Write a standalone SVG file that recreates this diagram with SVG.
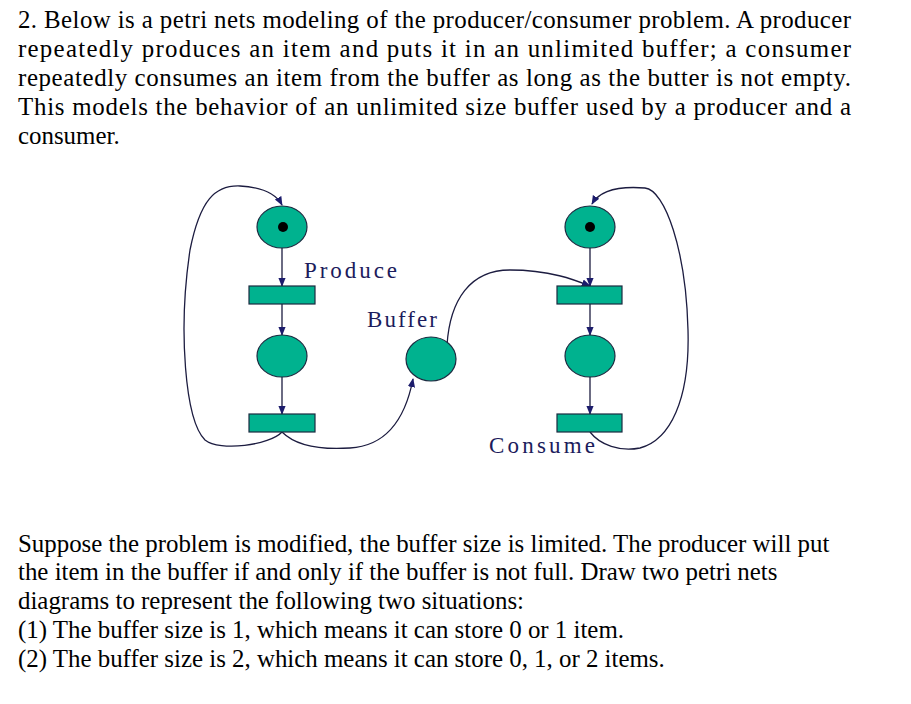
<svg xmlns="http://www.w3.org/2000/svg" width="911" height="704" viewBox="0 0 911 704">
<style>
.t{font-family:"Liberation Serif",serif;font-size:24.9px;fill:#000}
.l{font-family:"Liberation Serif",serif;font-size:23px;fill:#1c1c5c}
.p{fill:#00b28f;stroke:#1c2a40;stroke-width:1.2}
.c{fill:none;stroke:#1c1c40;stroke-width:1.3}
</style>
<defs><marker id="a" viewBox="0 0 10 10" refX="9" refY="5" markerWidth="7" markerHeight="7" orient="auto"><path d="M0,1 L10,5 L0,9 z" fill="#1c1c6c"/></marker></defs>
<rect width="911" height="704" fill="#fff"/>
<g id="text1">
<text class="t" x="18" y="28" textLength="833" lengthAdjust="spacing">2. Below is a petri nets modeling of the producer/consumer problem. A producer</text>
<text class="t" x="18" y="57" textLength="833" lengthAdjust="spacing">repeatedly produces an item and puts it in an unlimited buffer; a consumer</text>
<text class="t" x="18" y="86" textLength="833" lengthAdjust="spacing">repeatedly consumes an item from the buffer as long as the butter is not empty.</text>
<text class="t" x="18" y="115" textLength="833" lengthAdjust="spacing">This models the behavior of an unlimited size buffer used by a producer and a</text>
<text class="t" x="18" y="144">consumer.</text>
</g>
<g id="connectors">
<path class="c" d="M282,248 V286" marker-end="url(#a)"/>
<path class="c" d="M282,304 V335" marker-end="url(#a)"/>
<path class="c" d="M282,377 V414" marker-end="url(#a)"/>
<path class="c" d="M590,248 V286" marker-end="url(#a)"/>
<path class="c" d="M590,304 V335" marker-end="url(#a)"/>
<path class="c" d="M590,377 V414" marker-end="url(#a)"/>
<path class="c" d="M282,432 C270,445 220,452 205,440 C185,420 178,330 190,250 C200,200 215,185 240,186 C260,187 275,192 282,205" marker-end="url(#a)"/>
<path class="c" d="M282,432 C295,445 320,450 350,448 C385,446 405,420 413,379" marker-end="url(#a)"/>
<path class="c" d="M447,345 C450,300 470,270 510,270 C550,270 575,280 590,286" marker-end="url(#a)"/>
<path class="c" d="M590,432 C600,445 620,452 640,448 C670,440 690,400 688,330 C686,250 665,190 645,188 C620,186 600,190 592,204" marker-end="url(#a)"/>
</g>
<g id="p1"><ellipse class="p" cx="282" cy="227" rx="25" ry="21"/><circle cx="283" cy="227" r="5" fill="#000"/></g>
<g id="t1"><rect class="p" x="249" y="286" width="66" height="18"/></g>
<g id="p2"><ellipse class="p" cx="282" cy="356" rx="25" ry="21"/></g>
<g id="t2"><rect class="p" x="249" y="414" width="66" height="18"/></g>
<g id="buffer"><ellipse class="p" cx="431" cy="359" rx="25" ry="22"/></g>
<g id="p3"><ellipse class="p" cx="590" cy="227" rx="25" ry="21"/><circle cx="590" cy="227" r="5" fill="#000"/></g>
<g id="t3"><rect class="p" x="557" y="286" width="65" height="18"/></g>
<g id="p4"><ellipse class="p" cx="590" cy="356" rx="25" ry="21"/></g>
<g id="t4"><rect class="p" x="557" y="414" width="65" height="18"/></g>
<g id="labels">
<text class="l" x="304" y="278" textLength="93" lengthAdjust="spacing">Produce</text>
<text class="l" x="367" y="327" textLength="70" lengthAdjust="spacing">Buffer</text>
<text class="l" x="489" y="453" textLength="106" lengthAdjust="spacing">Consume</text>
</g>
<g id="text2">
<text class="t" x="18" y="552">Suppose the problem is modified, the buffer size is limited. The producer will put</text>
<text class="t" x="18" y="580">the item in the buffer if and only if the buffer is not full. Draw two petri nets</text>
<text class="t" x="18" y="609">diagrams to represent the following two situations:</text>
<text class="t" x="18" y="638">(1) The buffer size is 1, which means it can store 0 or 1 item.</text>
<text class="t" x="18" y="667">(2) The buffer size is 2, which means it can store 0, 1, or 2 items.</text>
</g>
</svg>
